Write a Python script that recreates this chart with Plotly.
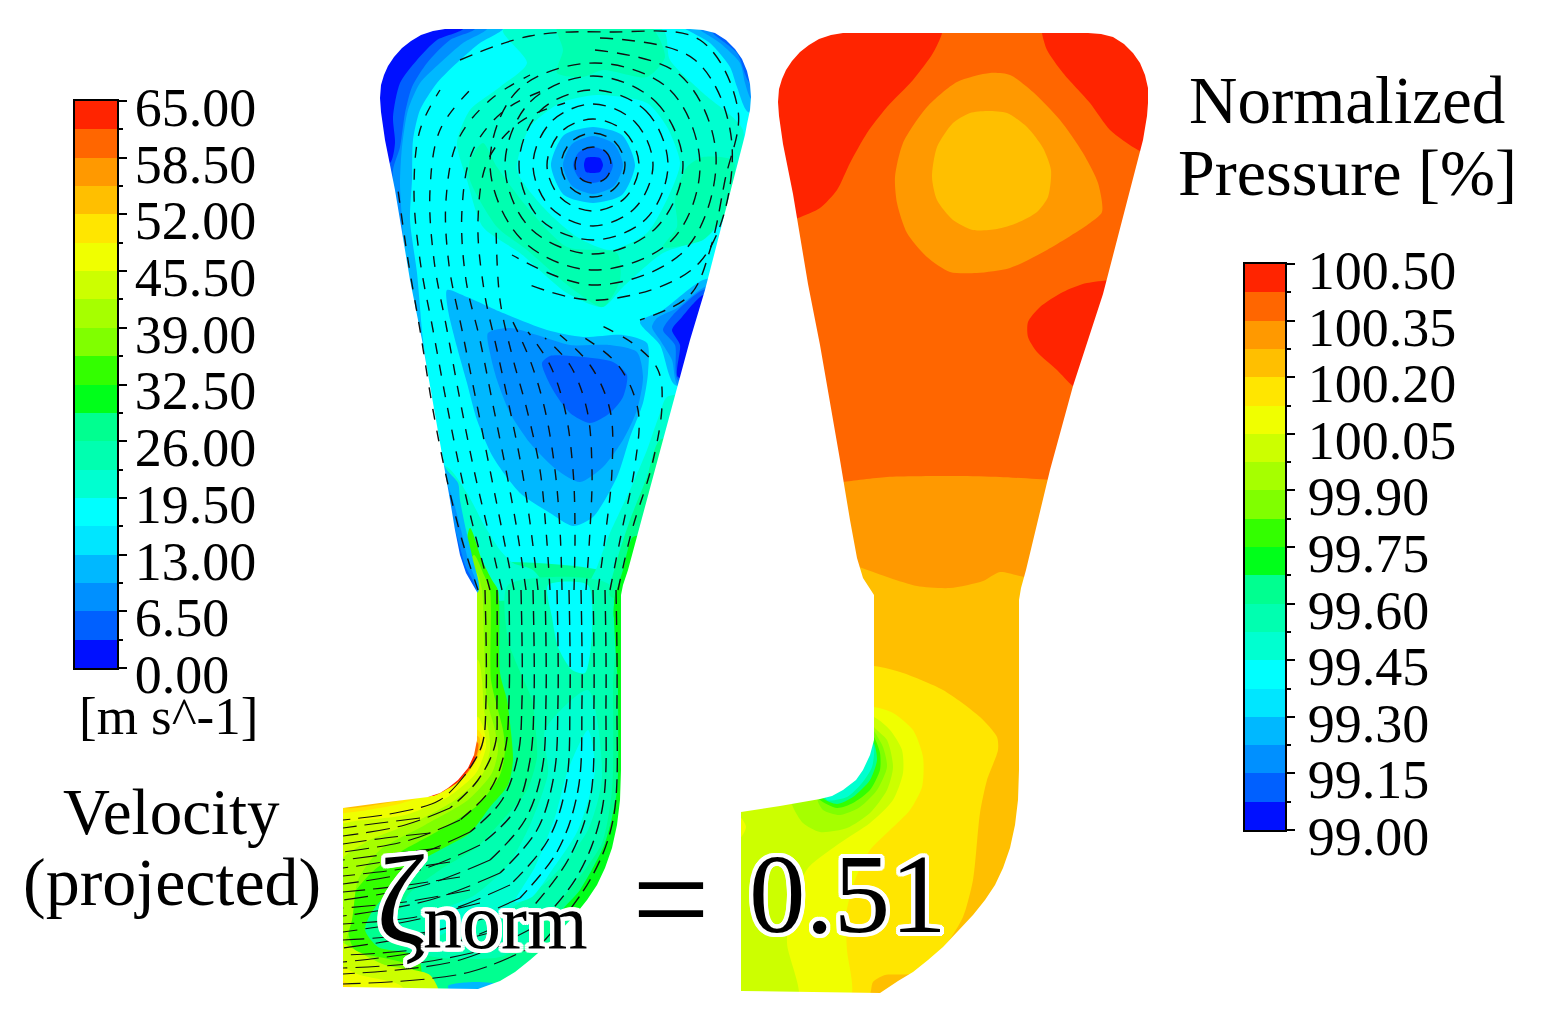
import plotly.graph_objects as go

W, H = 1544, 1015
FONT = "Liberation Serif"

# ---- legend data
velocity_colors = ["#0010ff","#0060ff","#0090ff","#00b8ff","#00e6ff","#00ffff","#00ffd0","#00ffb0","#00ff90","#00ff1a",
                   "#33ff00","#80ff00","#a6ff00","#ccff00","#f0ff00","#ffe600","#ffbf00","#ff9900","#ff6600","#ff2400"]
velocity_min, velocity_max, velocity_label_step, velocity_band = 0.0, 65.0, 6.5, 3.25
pressure_min, pressure_max, pressure_label_step, pressure_band = 99.0, 100.5, 0.15, 0.075

# ---- outlines of the two sections
outline_velocity = [(343,808),(380,803),(428,797),(440,793),(448,788),(458,780),(468,768),(474,755),(477,740),(477,592),
    (473,585),(466,573),(460,555),(455,530),(450,500),(442,455),(433,405),(422,340),(410,280),(395,190),(385,140),(381,112),
    (380,98),(381,85),(384,75),(388,66),(394,57),(402,48),(411,41),(421,35),(433,31),(445,29),(690,29),(703,30),(715,33),(726,40),
    (735,49),(742,59),(747,71),(750,84),(751,97),(750,110),(747,124),(745,135),(705,290),(690,340),(663,440),(639,530),(628,570),(623,585),(621,595),
    (621,770),(620,800),(617,825),(612,848),(605,868),(597,885),(587,900),(575,915),(560,931),(545,947),(530,960),(515,972),(500,981),(485,987),(478,989),(343,987)]
outline_pressure = [(1148,103),(1147,116),(1145,128),(1143,140),(1103,294),(1073,386),(1050,470),(1036,530),(1026,570),(1021,588),(1019,600),
    (1019,770),(1018,800),(1015,825),(1010,848),(1003,868),(995,885),(985,900),(973,915),(958,931),(943,947),(928,960),(913,972),(898,981),(880,993),
    (741,991),(741,812),(780,806),(820,799),(832,796),(843,790),(856,780),(863,770),(870,755),(874,740),(874,595),(869,587),(863,578),(857,558),(850,520),(840,460),(820,345),
    (808,284),(793,194),(783,144),(779,116),(778,102),(779,89),(782,79),(786,70),(792,61),(800,52),(809,45),(819,39),(831,35),(843,33),(1088,33),
    (1101,34),(1113,37),(1124,44),(1133,53),(1140,63),(1145,75),(1148,88)]

# ---- pressure contour bands, painted in order
p_base = [(765,20),(1160,20),(1160,1000),(730,1000),(730,400),(765,400)]
p_red_left = [(942,20),(942,33),(933,53),(913,80),(887,107),(867,133),(850,163),(837,190),(820,208),(798,218),(775,225),(765,100),(770,20)]
p_red_right = [(1042,20),(1042,33),(1047,50),(1063,73),(1090,103),(1110,130),(1138,150),(1165,160),(1165,20)]
p_ring = [(990,73),(1010,75),(1033,92),(1060,120),(1083,153),(1098,183),(1102,212),(1090,223),(1047,250),(1010,268),(977,273),
    (950,272),(927,257),(907,233),(897,203),(895,177),(903,143),(927,107),(957,82)]
p_core = [(987,111),(1007,113),(1027,127),(1043,148),(1051,170),(1048,197),(1037,212),(1017,223),(997,229),(973,230),(953,220),
    (937,200),(932,177),(937,147),(953,123),(970,113)]
p_red_mid = [(1125,283),(1087,283),(1063,292),(1040,307),(1028,322),(1028,337),(1037,352),(1057,370),(1073,386),(1100,400)]
p_low_orange = [(830,484),(843,482),(887,477),(957,476),(1000,477),(1052,480),(1075,482),(1075,1000),(730,1000),(730,484)]
p_low_amber = [(730,560),(840,560),(862,568),(890,578),(917,586),(950,588),(983,581),(1000,572),(1025,577),(1045,577),(1045,1000),(730,1000)]
p_yellow = [(730,664),(874,666),(903,673),(943,690),(980,717),(997,737),(998,750),(987,780),(980,813),(973,880),(963,917),(947,943),
    (915,973),(885,975),(873,982),(868,998),(730,998)]
p_lemon = [(730,705),(874,707),(893,713),(913,730),(923,757),(922,787),(910,810),(890,830),(870,850),(855,880),(846,915),(847,950),(850,998),(730,998)]
p_lime = [(874,717),(890,730),(902,750),(903,773),(893,800),(870,823),(840,843),(808,868),(793,900),(787,943),(798,998),(735,998),(735,805),(800,700)]
p_lemon_spot = [(735,818),(741,818),(746,827),(741,837),(735,837)]
p_g1 = [(860,700),(874,727),(887,740),(893,767),(887,790),(870,813),(847,828),(820,832),(803,823),(793,807),(790,793)]
p_g2 = [(860,710),(874,731),(883,747),(887,767),(877,790),(860,807),(840,815),(823,810),(817,797)]
p_g3 = [(860,720),(874,737),(880,753),(880,770),(870,790),(853,803),(837,808),(820,800),(815,793)]
p_g4 = [(865,730),(874,743),(877,760),(870,780),(853,797),(837,804),(823,798),(820,785)]
p_g5 = [(868,735),(874,747),(872,767),(862,783),(847,797),(827,800),(825,785)]
pressure_layers = [(p_red_left,19),(p_red_right,19),(p_ring,17),(p_core,16),(p_red_mid,19),(p_low_orange,17),(p_low_amber,16),
    (p_yellow,15),(p_lemon,14),(p_lime,13),(p_lemon_spot,14),(p_g1,12),(p_g2,11),(p_g3,10),(p_g4,8),(p_g5,6)]

# ---- velocity contour bands, painted in order
v_base = [(335,20),(765,20),(765,400),(680,400),(680,1000),(335,1000)]
v_low_base = [(335,592),(660,592),(660,1000),(335,1000)]
v_teal_left = [(420,467),(447,467),(467,493),(483,523),(500,550),(513,563),(533,570),(547,593),(430,593)]
v_teal_right = [(587,593),(597,567),(610,533),(630,490),(647,450),(660,413),(667,397),(700,397),(650,593)]
v_teal_low = [(508,585),(610,585),(613,690),(612,790),(602,843),(575,883),(552,910),(530,940),(500,957),(435,957),(402,945),(395,925),
    (408,895),(440,870),(477,847),(500,823),(527,790),(537,757),(535,723),(532,700),(515,660),(508,640)]
v_aqua_bend = [(545,730),(588,690),(602,777),(588,830),(552,877),(508,910),(462,923),(435,937),(435,915),(475,895),(508,865),(530,825),(548,773)]
v_cyan_duct = [(548,585),(588,585),(592,633),(585,673),(572,670),(558,647),(552,617)]
v_cyan_bend = [(588,730),(595,770),(578,830),(552,870),(532,897),(515,902),(535,867),(555,817),(568,770)]
v_ring_teal = [(503,30),(663,30),(670,60),(703,93),(743,130),(733,187),(723,220),(700,240),(663,253),(623,287),(603,307),(567,293),(520,253),
    (483,227),(467,180),(457,143),(470,110),(500,87),(527,63)]
v_green_top = [(557,26),(650,26),(665,57),(647,77),(603,70),(583,77),(557,73),(563,50)]
v_green_left = [(483,143),(497,167),(527,207),(567,247),(617,253),(620,280),(603,307),(570,287),(527,250),(497,227),(470,180),(470,160)]
v_green_right = [(733,160),(703,157),(687,167),(675,197),(677,227),(663,247),(703,240),(723,217),(735,173)]
v_hole = [(597,95),(647,103),(667,127),(680,163),(670,193),(647,233),(610,250),(577,237),(543,207),(517,170),(530,127),(560,103)]
v_eye1 = [(593,127),(622,135),(635,165),(622,195),(593,203),(564,195),(551,165),(564,135)]
v_eye2 = [(593,136),(614,144),(623,165),(614,186),(593,194),(572,186),(563,165),(572,144)]
v_eye3 = [(593,147),(607,152),(613,165),(607,178),(593,183),(579,178),(573,165),(579,152)]
v_eye4 = [(593,157),(600,158),(603,165),(600,172),(593,173),(586,172),(584,165),(586,158)]
v_pocket1 = [(447,290),(467,297),(503,313),(547,330),(583,337),(623,335),(647,343),(648,373),(643,403),(630,437),(617,477),(593,517),(573,526),
    (550,513),(520,493),(493,457),(477,420),(467,383),(457,347),(448,310)]
v_pocket2 = [(488,333),(510,328),(537,335),(570,345),(610,345),(637,352),(643,377),(637,410),(623,440),(603,467),(580,482),(557,470),(530,443),
    (510,413),(497,380),(490,353)]
v_pocket3 = [(542,363),(550,356),(583,357),(613,362),(627,375),(623,397),(610,413),(590,423),(570,413),(553,390)]
v_nook1 = [(640,322),(663,310),(703,280),(730,280),(730,385),(675,385),(660,345)]
v_nook2 = [(652,327),(657,318),(677,308),(705,287),(730,287),(730,385),(678,385),(672,360),(660,340)]
v_nook3 = [(663,330),(673,315),(703,290),(725,290),(725,380),(678,380),(675,345)]
v_nook4 = [(672,330),(682,317),(703,295),(720,295),(720,370),(678,377),(680,345)]
v_wall_r1 = [(660,440),(647,477),(630,520),(615,567),(610,596),(655,596),(700,440)]
v_wall_r2 = [(633,537),(623,570),(615,597),(615,620),(650,620),(650,537)]
v_wall_r3 = [(620,590),(616,620),(640,620),(640,590)]
v_wall_low = [(617,590),(618,690),(617,790),(605,843),(580,890),(560,915),(640,915),(640,590)]
v_left_g0 = [(470,528),(482,560),(492,580),(498,590),(500,673),(507,700),(510,723),(513,760),(508,785),(490,807),(470,833),(440,850),(402,872),(385,895),(370,915),
    (365,930),(378,947),(418,957),(418,1000),(335,1000),(335,780),(440,700),(460,590)]
v_left_g1 = [(474,555),(484,575),(490,590),(491,680),(498,710),(503,730),(505,750),(500,775),(478,805),(440,830),(400,852),(372,872),(352,897),(348,930),(355,950),
    (412,967),(412,1000),(335,1000),(335,780),(440,700),(460,590)]
v_left_g2 = [(476,572),(482,590),(484,640),(487,700),(495,730),(498,750),(492,773),(468,800),(425,825),(380,850),(358,880),(352,920),(343,945),(335,945),
    (335,780),(440,700),(460,590)]
v_left_g3 = [(478,660),(482,680),(484,710),(489,733),(490,750),(482,775),(455,800),(415,822),(370,840),(345,856),(335,870),(335,780),(440,700),(465,660)]
v_left_g4 = [(478,717),(484,730),(486,747),(476,773),(448,797),(405,815),(355,821),(345,823),(335,823),(335,780),(440,730),(470,717)]
v_left_g5 = [(478,730),(483,738),(482,750),(468,773),(440,790),(395,805),(345,813),(335,813),(335,780),(440,730),(470,730)]
v_left_g6 = [(479,737),(480,745),(476,760),(462,778),(432,793),(402,800),(345,808),(335,800),(335,780),(440,730)]
v_left_g7 = [(478,743),(475,760),(464,777),(445,790),(428,797),(420,795),(440,760),(460,735)]
v_left_g8 = [(475,757),(470,767),(458,782),(442,792),(432,796),(425,785),(455,755)]
v_foot1 = [(335,940),(355,950),(385,965),(430,975),(440,1000),(335,1000)]
v_foot2 = [(335,965),(360,975),(400,985),(410,1000),(335,1000)]
v_foot3 = [(335,978),(350,985),(365,1000),(335,1000)]
v_foot4 = [(448,986),(475,982),(500,985),(480,998),(455,998)]
v_left1 = [(503,29),(480,43),(460,60),(437,83),(420,110),(413,140),(412,180),(410,220),(417,273),(423,340),(433,407),(445,467),(458,483),(460,500),
    (466,530),(473,560),(478,592),(370,592),(370,20),(503,20)]
v_left2 = [(487,29),(463,43),(440,63),(420,83),(408,110),(402,147),(400,183),(402,220),(408,300),(420,380),(436,450),(453,500),(461,530),(468,560),
    (477,592),(370,592),(370,20),(487,20)]
v_left3 = [(475,29),(450,40),(427,63),(412,87),(405,113),(400,147),(393,170),(395,220),(408,290),(425,400),(440,470),(450,510),(458,540),(465,565),
    (476,592),(370,592),(370,20),(475,20)]
v_left4 = [(463,29),(437,40),(417,60),(400,83),(393,117),(395,143),(390,163),(370,163),(370,20),(463,20)]
v_corner1 = [(680,25),(710,43),(730,67),(737,87),(748,112),(775,112),(775,20),(680,20)]
v_corner2 = [(697,27),(720,43),(740,63),(745,83),(752,100),(775,100),(775,20),(697,20)]
v_corner3 = [(710,30),(737,53),(750,83),(775,83),(775,20),(710,20)]
velocity_layers = [(v_low_base,8),(v_teal_left,6),(v_teal_right,6),(v_teal_low,7),(v_aqua_bend,6),(v_cyan_duct,5),(v_cyan_bend,5),
    (v_ring_teal,6),(v_green_top,7),(v_green_left,7),(v_green_right,7),(v_hole,5),(v_eye1,3),(v_eye2,2),(v_eye3,1),(v_eye4,0),
    (v_pocket1,3),(v_pocket2,2),(v_pocket3,1),(v_nook1,3),(v_nook2,2),(v_nook3,1),(v_nook4,0),(v_wall_r1,8),(v_wall_r2,9),(v_wall_r3,11),
    (v_wall_low,9),(v_left_g0,10),(v_left_g1,11),(v_left_g2,12),(v_left_g3,13),(v_left_g4,14),(v_left_g5,15),(v_left_g6,16),(v_left_g7,18),(v_left_g8,19),
    (v_foot1,13),(v_foot2,14),(v_foot3,15),(v_foot4,3),
    (v_left1,3),(v_left2,2),(v_left3,1),(v_left4,0),(v_corner1,3),(v_corner2,2),(v_corner3,1)]

# ---- velocity direction lines
swirl_lines = [
 [(593,147),(606,152),(611,165),(606,178),(593,183),(580,178),(575,165),(580,152),(593,147)],
 [(593,133),(615,142),(625,165),(615,188),(593,197),(571,188),(561,165),(571,142),(593,133)],
 [(593,119),(625,132),(639,165),(625,198),(593,211),(561,198),(547,165),(561,132),(593,119)],
 [(593,104),(635,122),(653,165),(635,208),(593,226),(551,208),(533,165),(551,122),(593,104)],
 [(593,90),(646,111),(668,165),(646,219),(593,240),(540,219),(519,165),(540,111),(593,90)],
 [(593,76),(656,102),(683,165),(656,228),(593,254),(530,228),(505,165),(530,102),(593,76)],
 [(595,63),(670,90),(700,165),(672,240),(593,270),(522,240),(490,165),(518,90),(595,63)],
 [(595,50),(680,75),(716,155),(685,250),(595,285),(512,255)],
 [(600,38),(695,60),(732,145),(700,262),(600,300),(530,285)],
 [(460,60),(530,36),(610,32),(700,40),(738,110),(725,180),(710,250),(690,295),(640,320)],
]
rise_lines = [
 [(478,590),(462,540),(447,480),(433,410),(420,330),(408,260),(398,190)],
 [(490,590),(474,530),(460,470),(446,400),(433,330),(420,260),(414,190),(420,130),(440,90)],
 [(502,590),(488,530),(474,470),(460,400),(447,330),(434,260),(430,190),(440,130),(470,90)],
 [(514,590),(502,530),(490,470),(476,400),(462,330),(449,265),(446,200),(458,140),(490,100),(530,75)],
 [(526,590),(517,530),(506,470),(492,400),(480,340),(466,280),(462,210),(473,150),(505,110),(550,88)],
 [(538,590),(531,530),(522,470),(510,410),(497,350),(484,290),(478,220),(488,160),(520,122),(565,103)],
 [(550,590),(546,530),(540,470),(527,410),(512,355),(500,300),(496,225)],
 [(562,590),(560,530),(555,470),(545,410),(530,360),(512,320)],
 [(574,590),(575,530),(573,470),(565,410),(550,365),(528,332)],
 [(586,590),(590,530),(592,470),(587,410),(570,365),(545,338)],
 [(598,590),(606,530),(612,470),(610,410),(590,365),(560,335)],
 [(610,590),(622,530),(635,465),(638,410),(618,365),(580,335)],
 [(618,590),(632,530),(652,465),(662,405),(658,370),(635,345),(600,325)],
]
bend_lines = [
 [(485,590),(486,700),(482,745),(465,775)],
 [(497,590),(497,700),(495,745),(478,780),(450,808)],
 [(509,590),(509,700),(505,750),(490,790),(460,820)],
 [(521,590),(522,700),(518,755),(502,800),(470,832)],
 [(533,590),(534,700),(530,760),(515,810),(480,845)],
 [(545,590),(546,700),(542,770),(525,820),(490,860)],
 [(557,590),(558,700),(554,775),(537,830),(500,873)],
 [(569,590),(570,700),(566,785),(548,840),(510,885)],
 [(581,590),(582,700),(578,790),(558,850),(520,898)],
 [(593,590),(594,700),(590,800),(568,860),(530,910)],
 [(605,590),(606,700),(602,810),(578,875),(538,925)],
 [(616,590),(617,700),(613,820),(590,880),(545,940)],
]
inlet_lines = [
 [(465,775),(440,800),(400,812),(343,820)],
 [(450,808),(405,825),(343,836)],
 [(460,820),(410,840),(343,852)],
 [(470,832),(415,855),(343,868)],
 [(480,845),(420,870),(343,884)],
 [(490,860),(425,885),(343,900)],
 [(500,873),(430,900),(343,916)],
 [(510,885),(435,915),(343,932)],
 [(520,898),(440,930),(343,948)],
 [(530,910),(450,945),(343,962)],
 [(538,925),(460,960),(343,974)],
 [(545,940),(470,972),(343,984)],
 [(420,818),(380,823),(343,828)],
 [(430,833),(385,838),(343,844)],
 [(440,848),(390,854),(343,860)],
 [(450,862),(395,870),(343,876)],
 [(460,877),(400,886),(343,892)],
 [(470,890),(405,902),(343,908)],
 [(480,903),(410,918),(343,924)],
 [(490,917),(415,934),(343,940)],
 [(500,930),(420,949),(343,955)],
 [(505,945),(425,962),(343,968)],
]

fig = go.Figure()

def poly(pts, color, shape="spline"):
    fig.add_trace(go.Scatter(x=[p[0] for p in pts]+[pts[0][0]], y=[p[1] for p in pts]+[pts[0][1]], mode="lines",
        line=dict(width=0, shape=shape, smoothing=0.7), fill="toself", fillcolor=color, hoverinfo="skip", showlegend=False))

poly(v_base, velocity_colors[5], "linear")
for pts, i in velocity_layers:
    poly(pts, velocity_colors[i])
poly(p_base, velocity_colors[18], "linear")
for pts, i in pressure_layers:
    poly(pts, velocity_colors[i])

# white sheet with the two sections cut out of it
sheet = [(0,0)] + outline_velocity + [outline_velocity[0],(0,0),(0,H),(W,H),(W,0)] + outline_pressure + [outline_pressure[0],(W,0),(0,0)]
poly(sheet, "white", "linear")

def lines(groups, dash, width):
    xs, ys = [], []
    for g in groups:
        xs += [p[0] for p in g] + [None]
        ys += [p[1] for p in g] + [None]
    fig.add_trace(go.Scatter(x=xs, y=ys, mode="lines", line=dict(color="#111111", width=width, dash=dash, shape="spline", smoothing=1),
                             hoverinfo="skip", showlegend=False, connectgaps=False))

lines(swirl_lines, "13px,9px", 1.4)
lines(rise_lines, "11px,11px", 1.4)
lines(bend_lines, "14px,7px", 1.4)
lines(inlet_lines, "24px,8px", 1.1)

def legend_bar(colors, vmin, step, xa, ya):
    fig.add_trace(go.Bar(x=[0]*len(colors), y=[step]*len(colors), base=[vmin+i*step for i in range(len(colors))], width=1,
        marker=dict(color=colors, line=dict(width=0)), xaxis=xa, yaxis=ya, hoverinfo="skip", showlegend=False))

legend_bar(velocity_colors, velocity_min, velocity_band, "x2", "y2")
legend_bar(velocity_colors, pressure_min, pressure_band, "x3", "y3")

def lab(text, x, y, size, halo=False, **kw):
    f = dict(family=FONT, size=size, color="black")
    if halo:
        f["shadow"] = ("4px 0 0 #fff,-4px 0 0 #fff,0 4px 0 #fff,0 -4px 0 #fff,3px 3px 0 #fff,-3px 3px 0 #fff,3px -3px 0 #fff,-3px -3px 0 #fff,"
                       "4px 2px 0 #fff,-4px 2px 0 #fff,4px -2px 0 #fff,-4px -2px 0 #fff,2px 4px 0 #fff,-2px 4px 0 #fff,2px -4px 0 #fff,-2px -4px 0 #fff")
    fig.add_annotation(text=text, x=x, y=y, xref="x", yref="y", showarrow=False, font=f, xanchor="center", yanchor="middle", **kw)

lab("Velocity", 171, 812, 65)
lab("(projected)", 172, 882, 68)
lab("[m s^-1]", 168, 716, 53)
lab("Normalized", 1347, 100, 67)
lab("Pressure [%]", 1347, 172, 66)
lab("ζ", 402, 900, 125, halo=True)
lab("norm", 505, 921, 78, halo=True)
lab("=", 671, 899, 138)
lab("0.51", 848, 893, 113, halo=True)

def yax(lo, hi, step, band, top, bottom, anchor, standoff):
    return dict(domain=[(H-bottom)/H, (H-top)/H], range=[lo, hi], anchor=anchor, side="right", tick0=lo, dtick=step, tickformat=".2f",
        ticks="outside", ticklen=8, tickwidth=2, tickcolor="black", showline=True, linecolor="black", linewidth=2, mirror=True, automargin=False,
        showgrid=False, zeroline=False, tickfont=dict(family=FONT, size=54, color="black"), ticklabelstandoff=standoff, ticklabelshift=6,
        minor=dict(ticks="outside", ticklen=4, tickwidth=2, tickcolor="black", tick0=lo, dtick=band, showgrid=False), fixedrange=True)

def xax(left, right, anchor):
    return dict(domain=[left/W, right/W], range=[-0.5, 0.5], anchor=anchor, showticklabels=False, ticks="", showgrid=False, zeroline=False,
        showline=True, linecolor="black", linewidth=2, mirror=True, fixedrange=True, automargin=False)

fig.update_layout(width=W, height=H, margin=dict(l=0, r=0, t=0, b=0, autoexpand=False), paper_bgcolor="white", plot_bgcolor="white", showlegend=False,
    bargap=0, barmode="overlay",
    xaxis=dict(domain=[0,1], range=[0,W], visible=False, fixedrange=True, automargin=False),
    yaxis=dict(domain=[0,1], range=[H,0], visible=False, fixedrange=True, automargin=False),
    xaxis2=xax(75,117,"y2"), yaxis2=yax(velocity_min, velocity_max, velocity_label_step, velocity_band, 101, 668, "x2", -3),
    xaxis3=xax(1245,1285,"y3"), yaxis3=yax(pressure_min, pressure_max, pressure_label_step, pressure_band, 264, 830, "x3", 2))

fig.write_html("out.html", config=dict(displayModeBar=False), post_script="document.body.style.margin='0';document.body.style.overflow='hidden';")
